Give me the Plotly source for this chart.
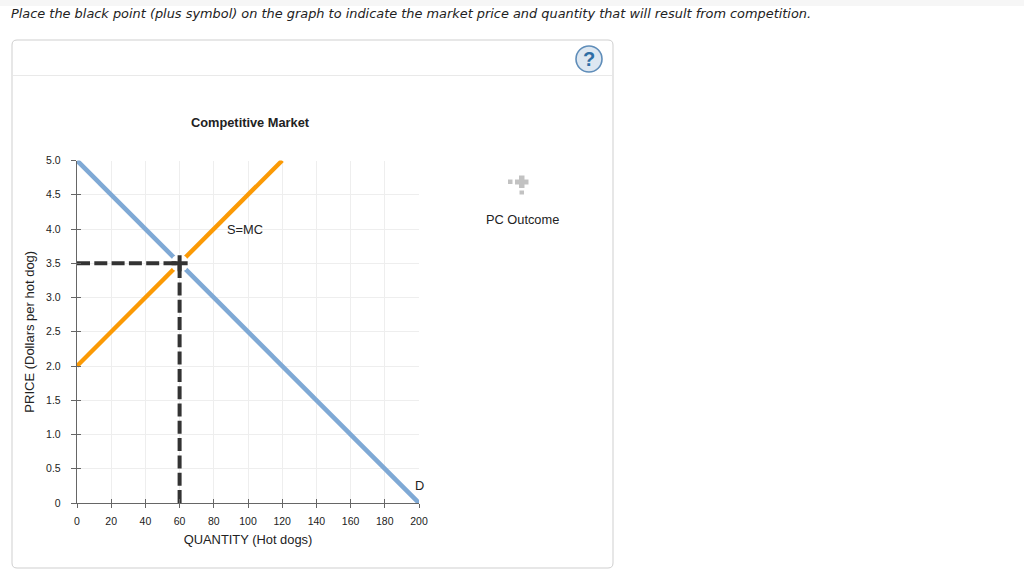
import plotly.graph_objects as go

W, H = 1024, 582

# ---- data ----
demand_q = [0, 200]
demand_p = [5.0, 0]
supply_q = [0, 120]
supply_p = [2.0, 5.0]
eq_q = 60
eq_p = 3.5
x_ticks = [0, 20, 40, 60, 80, 100, 120, 140, 160, 180, 200]
y_ticks = [0, 0.5, 1.0, 1.5, 2.0, 2.5, 3.0, 3.5, 4.0, 4.5, 5.0]
y_tick_labels = ["0", "0.5", "1.0", "1.5", "2.0", "2.5", "3.0", "3.5", "4.0", "4.5", "5.0"]
question = "Place the black point (plus symbol) on the graph to indicate the market price and quantity that will result from competition."

FONT = "Liberation Sans"
TXT = "#222222"
GRID = "#eeeeee"
AXIS = "#666666"
DARK = "#333333"


def px(x):
    return x / W


def py(y):
    return 1 - y / H


def rect(x0, y0, x1, y1, fill):
    return dict(type="rect", xref="paper", yref="paper", x0=px(x0), x1=px(x1), y0=py(y0), y1=py(y1),
                fillcolor=fill, line=dict(width=0), layer="below")


def card_path(x0, y0, x1, y1, r):
    a0, b0, a1, b1 = px(x0), py(y0), px(x1), py(y1)
    rx, ry = r / W, r / H
    return (f"M{a0+rx},{b0} L{a1-rx},{b0} Q{a1},{b0} {a1},{b0-ry} L{a1},{b1+ry} Q{a1},{b1} {a1-rx},{b1} "
            f"L{a0+rx},{b1} Q{a0},{b1} {a0},{b1+ry} L{a0},{b0-ry} Q{a0},{b0} {a0+rx},{b0} Z")


fig = go.Figure()

# Hidden trace keeps the overlay axes (inner tick halves) on screen
fig.add_trace(go.Scatter(x=[0], y=[0], xaxis="x2", yaxis="y2", mode="markers",
                         marker=dict(opacity=0), hoverinfo="skip", showlegend=False))
fig.add_trace(go.Scatter(x=supply_q, y=supply_p, mode="lines", line=dict(color="#fb9a05", width=4.4),
                         name="S=MC", showlegend=False, cliponaxis=False))
fig.add_trace(go.Scatter(x=demand_q, y=demand_p, mode="lines", line=dict(color="#7fa9d5", width=4.6),
                         name="D", showlegend=False, cliponaxis=False))
fig.add_trace(go.Scatter(x=[eq_q], y=[eq_p], mode="markers", marker=dict(color="white", size=18),
                         hoverinfo="skip", showlegend=False, cliponaxis=False))
fig.add_trace(go.Scatter(x=[0, eq_q], y=[eq_p, eq_p], mode="lines",
                         line=dict(color=DARK, width=4, dash="13px,4.3px"), showlegend=False))
fig.add_trace(go.Scatter(x=[eq_q, eq_q], y=[0, eq_p], mode="lines",
                         line=dict(color=DARK, width=4, dash="13px,4.3px"), showlegend=False))
fig.add_trace(go.Scatter(x=[eq_q], y=[eq_p], mode="markers",
                         marker=dict(symbol="cross-thin", size=11.5, line=dict(color=DARK, width=4)),
                         name="PC Outcome", showlegend=False, cliponaxis=False))

shapes = [
    rect(0, 0, W, 6, "#f6f6f6"),
    dict(type="path", xref="paper", yref="paper", path=card_path(12, 40, 613, 568, 5),
         line=dict(color="#cfcfcf", width=1), fillcolor="white", layer="below"),
    dict(type="line", xref="paper", yref="paper", x0=px(13), x1=px(612), y0=py(75.5), y1=py(75.5),
         line=dict(color="#e9e9e9", width=1), layer="below"),
    dict(type="circle", xref="paper", yref="paper", x0=px(576), x1=px(602), y0=py(46), y1=py(72),
         fillcolor="#dde7f1", line=dict(color="#5f8db9", width=1.6)),
    # legend icon
    rect(515, 179.5, 528.5, 184.5, "#c2c2c2"),
    rect(519, 175.5, 524.5, 188, "#c2c2c2"),
    rect(508, 179.5, 512.5, 184, "#c2c2c2"),
    rect(519.5, 190.5, 524, 194.5, "#c2c2c2"),
]


def note(text, x, y, size=12.8, color=TXT, family=FONT, **font_extra):
    return dict(text=text, xref="paper", yref="paper", x=px(x), y=py(y), xanchor="center", yanchor="middle",
                showarrow=False, font=dict(family=family, size=size, color=color, **font_extra))


q_note = note(question, 9, 13.5, size=12.9, color="#222222", family="DejaVu Sans", style="italic")
q_note["xanchor"] = "left"

annotations = [
    q_note,
    note("<b>Competitive Market</b>", 250.5, 122),
    dict(text="S=MC", x=98, y=4.0, xref="x", yref="y", xanchor="center", yanchor="middle", showarrow=False,
         font=dict(family=FONT, size=12.8, color=TXT)),
    dict(text="D", x=200, y=0.26, xref="x", yref="y", xanchor="center", yanchor="middle", showarrow=False,
         font=dict(family=FONT, size=12.8, color=TXT)),
    note("PC Outcome", 522.5, 219.5),
    note("<b>?</b>", 589, 59, size=20, color="#2f6ea5"),
]

x_domain = [px(77), px(419)]
y_domain = [py(503), py(160.5)]

fig.update_layout(
    width=W, height=H, margin=dict(l=0, r=0, t=0, b=0, autoexpand=False), autosize=False,
    paper_bgcolor="white", plot_bgcolor="white", showlegend=False,
    shapes=shapes, annotations=annotations,
    xaxis=dict(domain=x_domain, range=[0, 200], tickmode="array", tickvals=x_ticks, ticks="outside",
               ticklen=4, tickcolor=AXIS, showgrid=True, gridcolor=GRID, gridwidth=1, zeroline=False,
               showline=True, linecolor=AXIS, linewidth=1.4, ticklabelstandoff=4,
               tickfont=dict(family=FONT, size=10.5, color=TXT),
               title=dict(text="QUANTITY (Hot dogs)", font=dict(family=FONT, size=12.9, color=TXT), standoff=9)),
    yaxis=dict(domain=y_domain, range=[0, 5], tickmode="array", tickvals=y_ticks, ticktext=y_tick_labels,
               ticks="outside", ticklen=5, tickcolor=AXIS, showgrid=True, gridcolor=GRID, gridwidth=1,
               zeroline=False, showline=True, linecolor=AXIS, linewidth=1.4, ticklabelstandoff=8,
               tickfont=dict(family=FONT, size=10.5, color=TXT),
               title=dict(text="PRICE (Dollars per hot dog)", font=dict(family=FONT, size=13, color=TXT), standoff=8)),
    xaxis2=dict(domain=x_domain, range=[0, 200], overlaying="x", anchor="y2", tickmode="array", tickvals=x_ticks,
                ticks="inside", ticklen=4, tickcolor=AXIS, showticklabels=False, showgrid=False, zeroline=False),
    yaxis2=dict(domain=y_domain, range=[0, 5], overlaying="y", anchor="x2", tickmode="array", tickvals=y_ticks,
                ticks="inside", ticklen=4, tickcolor=AXIS, showticklabels=False, showgrid=False, zeroline=False),
)

fig.write_html("out.html", config=dict(displayModeBar=False),
               post_script="document.body.style.margin='0';document.body.style.overflow='hidden';")
